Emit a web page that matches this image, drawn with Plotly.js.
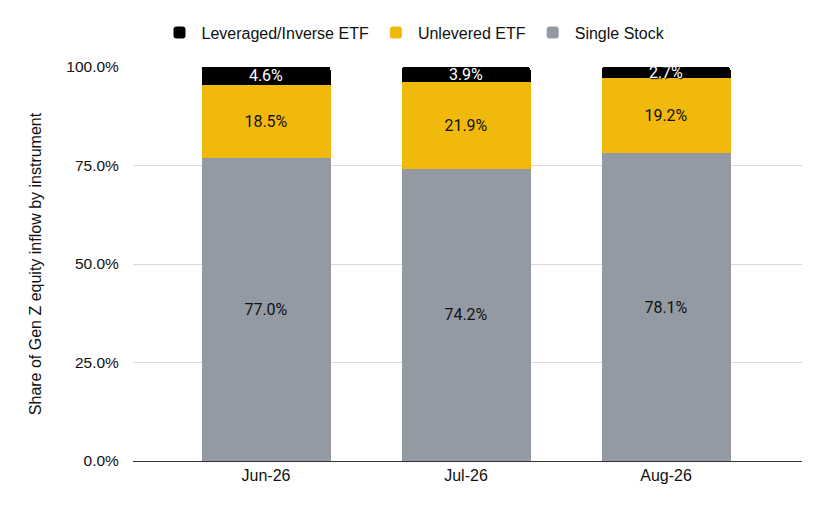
<!DOCTYPE html>
<html>
<head>
<meta charset="utf-8">
<script src="https://cdn.plot.ly/plotly-3.0.1.min.js"></script>
<style>
  html, body { margin: 0; padding: 0; background: #fff; }
  #chart { width: 828px; height: 512px; }
</style>
</head>
<body>
<div id="chart"></div>
<script>
const months = ['Jun-26', 'Jul-26', 'Aug-26']
const singleStock = [77.0, 74.2, 78.1]
const unlevered = [18.5, 21.9, 19.2]
const leveraged = [4.6, 3.9, 2.7]

function pct(v) { return v.map(x => x.toFixed(1) + '%') }

const labelFont = { family: 'Roboto, Arial, sans-serif', size: 16 }

const data = [
    {
        x: months, y: singleStock, type: 'bar', name: 'Single Stock',
        marker: { color: '#949aa4' },
        text: pct(singleStock), textposition: 'inside', insidetextanchor: 'middle', textangle: 0,
        textfont: Object.assign({ color: '#111' }, labelFont),
        hoverinfo: 'none'
    },
    {
        x: months, y: unlevered, type: 'bar', name: 'Unlevered ETF',
        marker: { color: '#f1b90c' },
        text: pct(unlevered), textposition: 'inside', insidetextanchor: 'middle', textangle: 0,
        textfont: Object.assign({ color: '#111' }, labelFont),
        hoverinfo: 'none'
    },
    {
        x: months, y: leveraged, type: 'bar', name: 'Leveraged/Inverse ETF',
        marker: { color: '#000000' },
        text: pct(leveraged), textposition: 'inside', insidetextanchor: 'middle', textangle: 0,
        textfont: Object.assign({ color: '#ffffff', shadow: '1px 1px 1px #000' }, labelFont),
        hoverinfo: 'none'
    }
]

const layout = {
    width: 828,
    height: 512,
    margin: { l: 133, r: 26, t: 67, b: 51 },
    paper_bgcolor: '#ffffff',
    plot_bgcolor: '#ffffff',
    font: { family: 'Liberation Sans, Arial, sans-serif', size: 16, color: '#111' },
    barmode: 'stack',
    bargap: 0.355,
    barcornerradius: 3,
    uniformtext: { mode: 'show', minsize: 16 },
    showlegend: true,
    legend: {
        orientation: 'h',
        traceorder: 'reversed',
        x: 0.42, xanchor: 'center',
        y: 1.087, yanchor: 'middle',
        font: { size: 16, color: '#111' },
        itemwidth: 34
    },
    xaxis: {
        type: 'category',
        range: [-0.665, 2.68],
        showgrid: false,
        showline: true,
        linecolor: '#333',
        linewidth: 1,
        ticks: '',
        tickfont: { size: 16, color: '#111' },
        automargin: false,
        fixedrange: true
    },
    yaxis: {
        range: [0, 100],
        tickvals: [0, 25, 50, 75, 100],
        ticktext: ['0.0%', '25.0%', '50.0%', '75.0%', '100.0%'],
        showgrid: true,
        gridcolor: '#d9d9d9',
        zeroline: false,
        tickfont: { size: 15.5, color: '#111' },
        ticklen: 10, ticks: 'outside', tickcolor: 'rgba(0,0,0,0)',
        title: { text: 'Share of Gen Z equity inflow by instrument', font: { size: 16, color: '#111' }, standoff: 20 },
        automargin: false,
        fixedrange: true
    }
}

Plotly.newPlot('chart', data, layout, { displayModeBar: false, staticPlot: true })
</script>
</body>
</html>
